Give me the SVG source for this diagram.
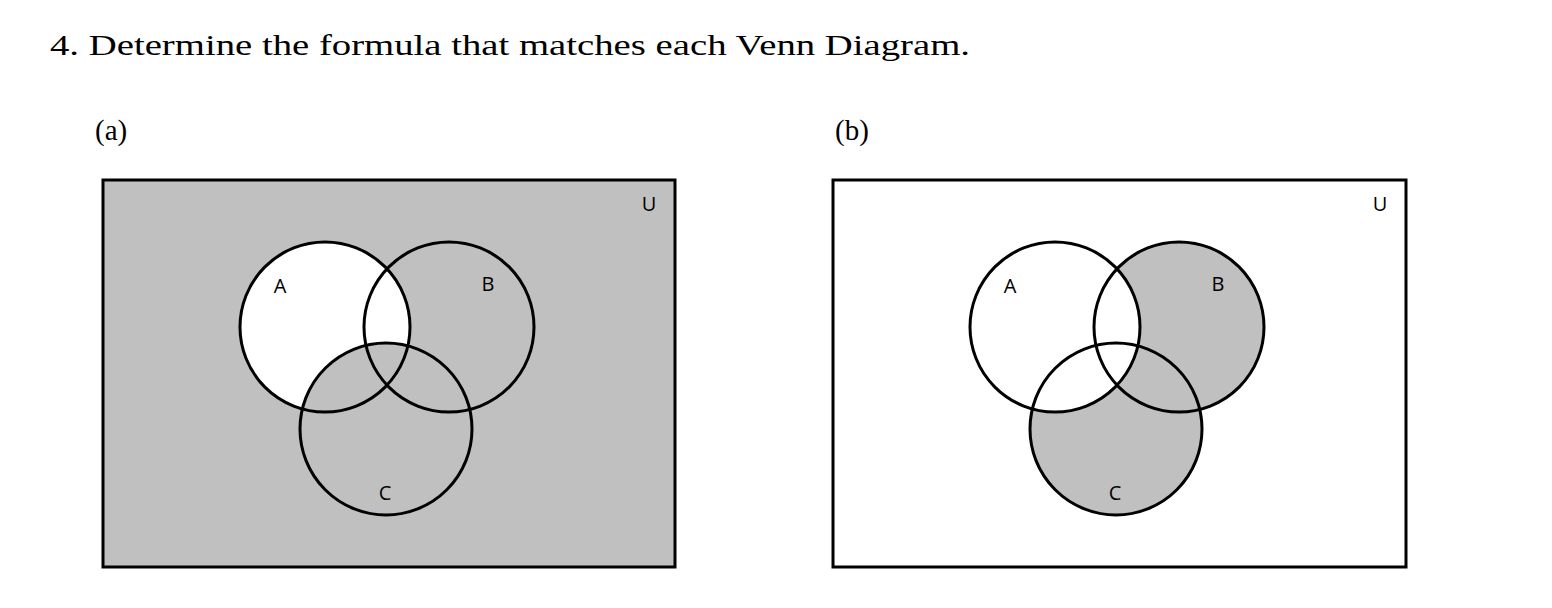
<svg xmlns="http://www.w3.org/2000/svg" width="1552" height="608" viewBox="0 0 1552 608">
<style>
.o{fill:none;stroke:#000;stroke-width:3}
.g{fill:#c0c0c0}
.w{fill:#fff}
.t{font-family:"Liberation Serif",serif;font-size:29px;fill:#000}
.l{font-family:"Open Sans","DejaVu Sans",sans-serif;font-size:20px;fill:#000;text-anchor:middle}
</style>
<rect width="1552" height="608" fill="#fff"/>
<text class="t" x="50" y="55" textLength="920" lengthAdjust="spacingAndGlyphs">4. Determine the formula that matches each Venn Diagram.</text>
<text class="t" x="95" y="140">(a)</text>
<text class="t" x="835" y="140">(b)</text>
<g id="diagram-a">
<rect class="g" x="103" y="180" width="572" height="387"/>
<circle class="w" cx="325" cy="327" r="85"/>
<circle class="g" cx="386" cy="429" r="86"/>
<rect class="o" x="103" y="180" width="572" height="387"/>
<circle class="o" cx="325" cy="327" r="85"/>
<circle class="o" cx="449" cy="327" r="85"/>
<circle class="o" cx="386" cy="429" r="86"/>
<text class="l" x="649" y="211">U</text>
<text class="l" x="280" y="293">A</text>
<text class="l" x="488" y="291">B</text>
<text class="l" x="385" y="500">C</text>
</g>
<g id="diagram-b">
<rect class="w" x="833" y="180" width="573" height="387"/>
<circle class="g" cx="1179" cy="327" r="85"/>
<circle class="g" cx="1116" cy="429" r="86"/>
<circle class="w" cx="1055" cy="327" r="85"/>
<rect class="o" x="833" y="180" width="573" height="387"/>
<circle class="o" cx="1055" cy="327" r="85"/>
<circle class="o" cx="1179" cy="327" r="85"/>
<circle class="o" cx="1116" cy="429" r="86"/>
<text class="l" x="1380" y="211">U</text>
<text class="l" x="1010" y="293">A</text>
<text class="l" x="1218" y="291">B</text>
<text class="l" x="1115" y="500">C</text>
</g>
<g id="connectors"/>
</svg>
